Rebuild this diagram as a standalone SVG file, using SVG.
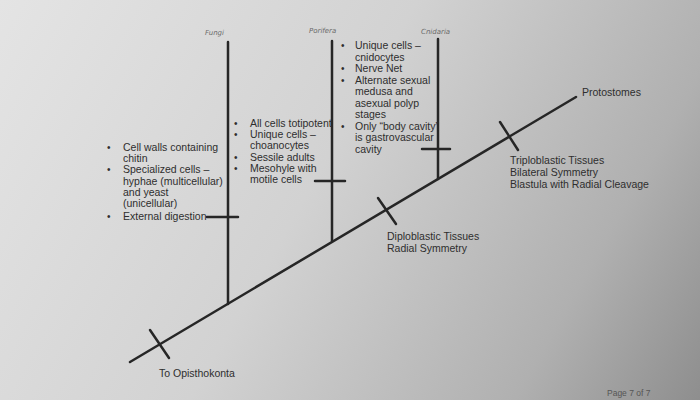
<svg xmlns="http://www.w3.org/2000/svg" width="700" height="400" viewBox="0 0 700 400">
<defs>
<linearGradient id="bg" x1="0" y1="0" x2="700" y2="400" gradientUnits="userSpaceOnUse">
<stop offset="0" stop-color="#e4e4e4"/>
<stop offset="0.45" stop-color="#d2d2d2"/>
<stop offset="0.8" stop-color="#b0b0b0"/>
<stop offset="1" stop-color="#8e8e8e"/>
</linearGradient>
</defs>
<style>
.ln{stroke:#262626;stroke-width:2.5;fill:none;stroke-linecap:round}
.t{font-family:"Liberation Sans",Arial,sans-serif;font-size:10.5px;fill:#2e2e2e}
.b{font-family:"Liberation Sans",Arial,sans-serif;font-size:10px;fill:#2e2e2e}
.h{font-family:"DejaVu Sans",sans-serif;font-size:7px;font-style:italic;fill:#6a6a6a}
</style>
<rect width="700" height="400" fill="url(#bg)"/>
<g id="connectors">
<line class="ln" x1="130" y1="362" x2="576" y2="97"/>
<line class="ln" x1="228" y1="42" x2="228" y2="304"/>
<line class="ln" x1="332" y1="41" x2="332" y2="241"/>
<line class="ln" x1="438" y1="39" x2="438" y2="179"/>
<line class="ln" x1="207" y1="217" x2="238" y2="217"/>
<line class="ln" x1="315" y1="181" x2="345" y2="181"/>
<line class="ln" x1="422" y1="149" x2="450" y2="149"/>
<line class="ln" x1="150" y1="330" x2="169" y2="358"/>
<line class="ln" x1="378" y1="198" x2="396" y2="224"/>
<line class="ln" x1="500" y1="122" x2="518" y2="150"/>
</g>
<g id="fungi">
<text class="h" x="205" y="35">Fungi</text>
<text class="b" x="107" y="151">•</text><text class="t" x="123" y="151">Cell walls containing</text>
<text class="t" x="123" y="162">chitin</text>
<text class="b" x="107" y="173">•</text><text class="t" x="123" y="173">Specialized cells –</text>
<text class="t" x="123" y="185">hyphae (multicellular)</text>
<text class="t" x="123" y="196">and yeast</text>
<text class="t" x="123" y="207">(unicellular)</text>
<text class="b" x="107" y="220">•</text><text class="t" x="123" y="220">External digestion</text>
</g>
<g id="porifera">
<text class="h" x="309" y="33">Porifera</text>
<text class="b" x="234" y="127">•</text><text class="t" x="250" y="127">All cells totipotent</text>
<text class="b" x="234" y="138">•</text><text class="t" x="250" y="138">Unique cells –</text>
<text class="t" x="250" y="149">choanocytes</text>
<text class="b" x="234" y="161">•</text><text class="t" x="250" y="161">Sessile adults</text>
<text class="b" x="234" y="172">•</text><text class="t" x="250" y="172">Mesohyle with</text>
<text class="t" x="250" y="183">motile cells</text>
</g>
<g id="cnidaria">
<text class="h" x="421" y="34">Cnidaria</text>
<text class="b" x="341" y="49">•</text><text class="t" x="355" y="49">Unique cells –</text>
<text class="t" x="355" y="61">cnidocytes</text>
<text class="b" x="341" y="72">•</text><text class="t" x="355" y="72">Nerve Net</text>
<text class="b" x="341" y="84">•</text><text class="t" x="355" y="84">Alternate sexual</text>
<text class="t" x="355" y="95">medusa and</text>
<text class="t" x="355" y="107">asexual polyp</text>
<text class="t" x="355" y="118">stages</text>
<text class="b" x="341" y="130">•</text><text class="t" x="355" y="130">Only “body cavity”</text>
<text class="t" x="355" y="141">is gastrovascular</text>
<text class="t" x="355" y="153">cavity</text>
</g>
<g id="diploblastic">
<text class="t" x="387" y="240">Diploblastic Tissues</text>
<text class="t" x="387" y="252">Radial Symmetry</text>
</g>
<g id="triploblastic">
<text class="t" x="510" y="164">Triploblastic Tissues</text>
<text class="t" x="510" y="176">Bilateral Symmetry</text>
<text class="t" x="510" y="188">Blastula with Radial Cleavage</text>
</g>
<g id="protostomes">
<text class="t" x="582" y="96">Protostomes</text>
</g>
<g id="opisthokonta">
<text class="t" x="159" y="377">To Opisthokonta</text>
</g>
<text x="607" y="396" font-family="Liberation Sans, Arial, sans-serif" font-size="8.5" fill="#555">Page 7 of 7</text>
</svg>
